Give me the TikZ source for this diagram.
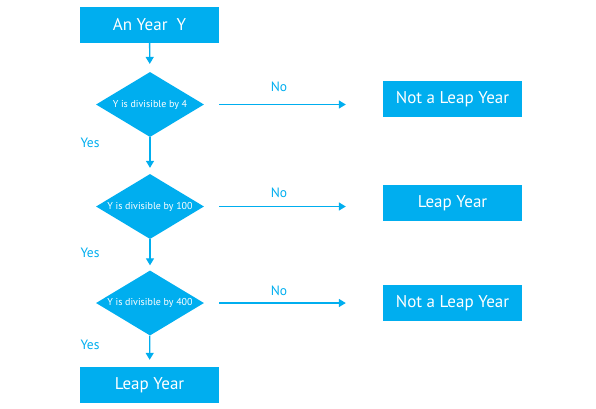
\documentclass[tikz,border=0pt]{standalone}
\usepackage{fontspec}
\setmainfont{PT Sans}
\usepackage{tikz}
\usetikzlibrary{positioning,shapes.geometric,arrows.meta}
\definecolor{leapblue}{HTML}{00AEEF}

\begin{document}
\begin{tikzpicture}[x=1pt,y=-1pt]
\tikzstyle{block}=[rectangle, minimum width=139, minimum height=36, fill=leapblue, text=white, font=\fontsize{17}{19}\selectfont, inner sep=0]
\tikzstyle{test}=[diamond, minimum width=108, minimum height=65, aspect=1.66, fill=leapblue, inner sep=0]
\tikzstyle{testtext}=[text=white, font=\fontsize{10}{12}\selectfont, inner sep=0]
\tikzstyle{connect}=[-{Triangle[length=7,width=8]}, line width=1.3, color=leapblue]
\tikzstyle{lbl}=[text=leapblue, font=\fontsize{13.5}{15}\selectfont]
\useasboundingbox (0,0) rectangle (596,408);
	\node[block] (year) at (149.5,25) {An Year\ \ Y};
	\node[test] (d_4) at (150,104.5) {};
	\node[testtext] at (d_4) {Y is divisible by 4};
	\node[test] (d_100) at (150,206.5) {};
	\node[testtext] at (d_100) {Y is divisible by 100};
	\node[test] (d_400) at (150,303) {};
	\node[testtext] at (d_400) {Y is divisible by 400};
	\node[block] (leap) at (149.5,385) {Leap Year};
	\node[block] (no_4) at (452.5,99) {Not a Leap Year};
	\node[block] (yes_100) at (452.5,203) {Leap Year};
	\node[block] (no_400) at (452.5,303) {Not a Leap Year};

	\node[lbl] at (279,87) {No};
	\node[lbl] at (279,193) {No};
	\node[lbl] at (279,291) {No};
	\node[lbl] at (90,143) {Yes};
	\node[lbl] at (90,253) {Yes};
	\node[lbl] at (90,345) {Yes};

	\draw[connect, shorten >=8] (year) -- (d_4);
	\draw[connect, shorten >=6] (d_4) -- (d_100);
	\draw[connect, shorten >=5] (d_100) -- (d_400);
	\draw[connect, shorten >=7] (d_400) -- (leap);
	\draw[connect, shorten <=15, shorten >=37] (d_4.east) -- (d_4.east -| no_4.west);
	\draw[connect, shorten <=15, shorten >=37] (d_100.east) -- (d_100.east -| yes_100.west);
	\draw[connect, shorten <=15, shorten >=37] (d_400.east) -- (no_400.west);
\end{tikzpicture}
\end{document}
